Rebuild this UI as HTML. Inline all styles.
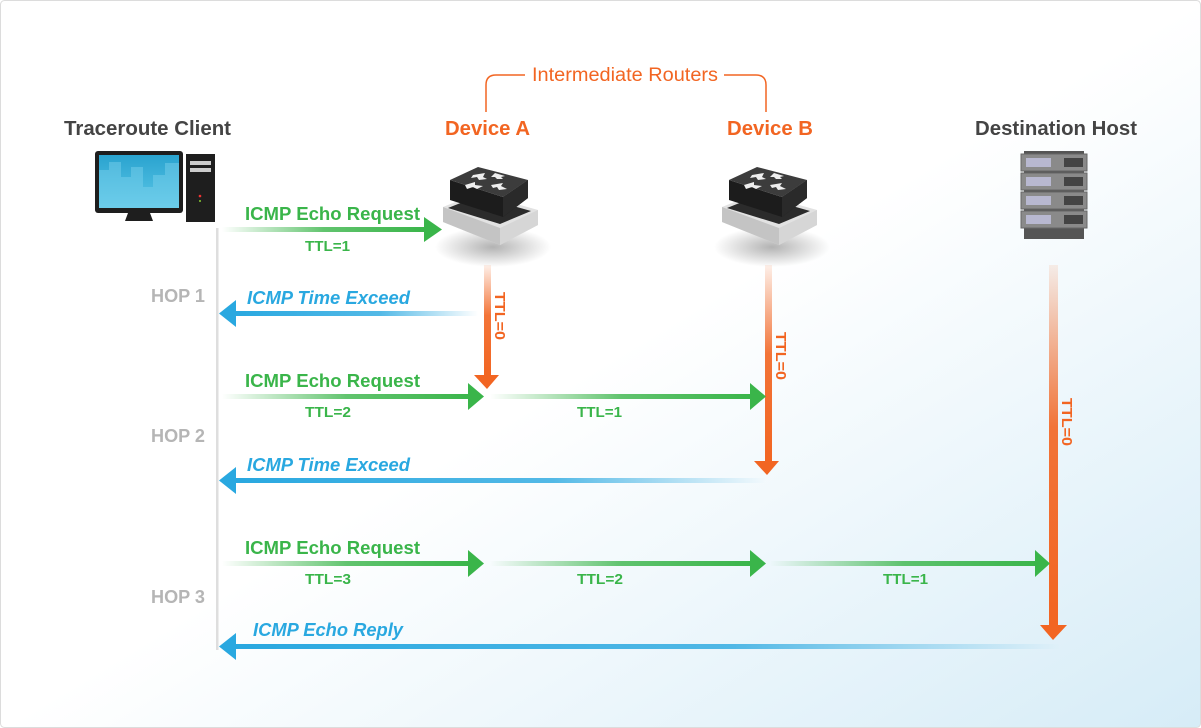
<!DOCTYPE html>
<html><head><meta charset="utf-8"><style>
html,body{margin:0;padding:0;background:#fff}
svg{display:block}
text{font-family:"Liberation Sans",Arial,sans-serif}
</style></head><body>
<svg width="1201" height="728" viewBox="0 0 1201 728" xmlns="http://www.w3.org/2000/svg">
<defs>
<linearGradient id="bg" x1="0" y1="0" x2="1" y2="1">
<stop offset="0.5" stop-color="#ffffff"/><stop offset="1" stop-color="#d6ecf7"/>
</linearGradient>
<linearGradient id="gr" x1="0" y1="0" x2="1" y2="0">
<stop offset="0" stop-color="#3ab54a" stop-opacity="0"/><stop offset="0.5" stop-color="#3ab54a" stop-opacity="0.8"/><stop offset="1" stop-color="#3ab54a"/>
</linearGradient>
<linearGradient id="bl" x1="0" y1="0" x2="1" y2="0">
<stop offset="0" stop-color="#29a8e0"/><stop offset="0.6" stop-color="#29a8e0" stop-opacity="0.8"/><stop offset="1" stop-color="#29a8e0" stop-opacity="0"/>
</linearGradient>
<linearGradient id="or" x1="0" y1="0" x2="0" y2="1">
<stop offset="0" stop-color="#f26522" stop-opacity="0.1"/><stop offset="0.45" stop-color="#f26522" stop-opacity="0.9"/><stop offset="1" stop-color="#f26522"/>
</linearGradient>
<radialGradient id="sh"><stop offset="0" stop-color="#000" stop-opacity="0.3"/><stop offset="1" stop-color="#000" stop-opacity="0"/></radialGradient>
<linearGradient id="scr" x1="0" y1="0" x2="0" y2="1"><stop offset="0" stop-color="#2aa3cf"/><stop offset="1" stop-color="#5cc8e8"/></linearGradient>
<g id="router">
<ellipse cx="50" cy="82" rx="58" ry="20" fill="url(#sh)"/>
<polygon points="0,42 35,28 95,45 95,60 57,80 0,57" fill="#e2e2e2"/>
<polygon points="0,42 57,63 57,80 0,57" fill="#c4c4c4"/>
<polygon points="57,63 95,45 95,60 57,80" fill="#d6d6d6"/>
<polygon points="5,43 35,31 88,46 57,59" fill="#2b2b2b"/>
<polygon points="7,15 7,35 60,52 85,33 85,15 60,32" fill="#1c1c1c"/>
<polygon points="60,32 85,15 85,33 60,52" fill="#2a2a2a"/>
<polygon points="7,15 35,2 85,15 60,32" fill="#3c3c3c"/>
<g fill="#eee">
<polygon points="30,10 42,8 40,12 44,14 36,15 34,12 28,13"/>
<polygon points="52,8 62,11 58,12 60,14 54,14 52,12 48,12"/>
<polygon points="22,20 32,17 32,20 40,21 34,24 30,22 24,24"/>
<polygon points="48,20 60,18 58,21 64,24 56,25 54,22 50,23"/>
</g>
</g>
</defs>
<rect x="0.5" y="0.5" width="1200" height="727" rx="4" fill="url(#bg)" stroke="#dcdcdc"/>

<!-- titles -->
<g font-size="20" font-weight="bold" lengthAdjust="spacingAndGlyphs">
<text x="64" y="135" fill="#444" textLength="167" lengthAdjust="spacingAndGlyphs">Traceroute Client</text>
<text x="445" y="135" fill="#f26522" textLength="85" lengthAdjust="spacingAndGlyphs">Device A</text>
<text x="727" y="135" fill="#f26522" textLength="86" lengthAdjust="spacingAndGlyphs">Device B</text>
<text x="975" y="135" fill="#444" textLength="162" lengthAdjust="spacingAndGlyphs">Destination Host</text>
</g>
<path d="M486,112 V85 Q486,75 496,75 H525 M724,75 H756 Q766,75 766,85 V112" fill="none" stroke="#f26522" stroke-width="1.5"/>
<text x="532" y="81" font-size="19" fill="#f26522" textLength="186" lengthAdjust="spacingAndGlyphs">Intermediate Routers</text>

<!-- computer -->
<rect x="95" y="151" width="88" height="62" rx="3" fill="#1e1e1e"/>
<rect x="99" y="155" width="80" height="53" fill="url(#scr)"/>
<path d="M99,208 V170 h10 v-8 h12 v15 h10 v-10 h12 v20 h10 v-12 h12 v-12 h14 v45z" fill="#7fd3ee" opacity="0.45"/>
<polygon points="128,213 150,213 153,221 125,221" fill="#1e1e1e"/>
<rect x="186" y="154" width="29" height="68" fill="#1e1e1e"/>
<rect x="190" y="161" width="21" height="4" fill="#ccc"/><rect x="190" y="168" width="21" height="4" fill="#ccc"/>
<circle cx="200" cy="196" r="1.3" fill="#e33"/><circle cx="200" cy="201" r="1" fill="#8c3"/>

<use href="#router" x="443" y="165"/>
<use href="#router" x="722" y="165"/>

<!-- server -->
<rect x="1024" y="151" width="60" height="88" fill="#555"/>
<g fill="#8a8a8a" stroke="#666">
<rect x="1021" y="154" width="66" height="17"/><rect x="1021" y="173" width="66" height="17"/>
<rect x="1021" y="192" width="66" height="17"/><rect x="1021" y="211" width="66" height="17"/>
</g>
<g fill="#b8b8d0"><rect x="1026" y="158" width="25" height="9"/><rect x="1026" y="177" width="25" height="9"/><rect x="1026" y="196" width="25" height="9"/><rect x="1026" y="215" width="25" height="9"/></g>
<g fill="#444"><rect x="1064" y="158" width="19" height="9"/><rect x="1064" y="177" width="19" height="9"/><rect x="1064" y="196" width="19" height="9"/><rect x="1064" y="215" width="19" height="9"/></g>

<!-- timeline -->
<rect x="216" y="228" width="2.5" height="422" fill="#dedede"/>
<g font-size="18" font-weight="bold" fill="#b5b5b5">
<text x="151" y="302" textLength="54" lengthAdjust="spacingAndGlyphs">HOP 1</text>
<text x="151" y="442" textLength="54" lengthAdjust="spacingAndGlyphs">HOP 2</text>
<text x="151" y="603" textLength="54" lengthAdjust="spacingAndGlyphs">HOP 3</text>
</g>

<!-- orange verticals -->
<rect x="484" y="265" width="7" height="112" fill="url(#or)"/>
<polygon points="474,375 499,375 487,389" fill="#f26522"/>
<rect x="765" y="265" width="7" height="198" fill="url(#or)"/>
<polygon points="754,461 779,461 767,475" fill="#f26522"/>
<rect x="1049" y="265" width="9" height="361" fill="url(#or)"/>
<polygon points="1040,625 1067,625 1053,640" fill="#f26522"/>
<g font-size="15" font-weight="bold" fill="#f26522">
<text transform="translate(495,292) rotate(90)" textLength="48" lengthAdjust="spacingAndGlyphs">TTL=0</text>
<text transform="translate(776,332) rotate(90)" textLength="48" lengthAdjust="spacingAndGlyphs">TTL=0</text>
<text transform="translate(1062,398) rotate(90)" textLength="48" lengthAdjust="spacingAndGlyphs">TTL=0</text>
</g>

<!-- green arrows -->
<g fill="url(#gr)">
<rect x="222" y="227" width="204" height="5"/>
<rect x="222" y="394" width="250" height="5"/>
<rect x="490" y="394" width="262" height="5"/>
<rect x="222" y="561" width="250" height="5"/>
<rect x="490" y="561" width="262" height="5"/>
<rect x="770" y="561" width="268" height="5"/>
</g>
<g fill="#3ab54a">
<polygon points="424,217 442,229.5 424,242"/>
<polygon points="468,383 484,396.5 468,410"/>
<polygon points="750,383 766,396.5 750,410"/>
<polygon points="468,550 484,563.5 468,577"/>
<polygon points="750,550 766,563.5 750,577"/>
<polygon points="1035,550 1050,563.5 1035,577"/>
</g>
<g font-size="18" font-weight="bold" fill="#3ab54a">
<text x="245" y="220" textLength="175" lengthAdjust="spacingAndGlyphs">ICMP Echo Request</text>
<text x="245" y="387" textLength="175" lengthAdjust="spacingAndGlyphs">ICMP Echo Request</text>
<text x="245" y="554" textLength="175" lengthAdjust="spacingAndGlyphs">ICMP Echo Request</text>
</g>
<g font-size="15" font-weight="bold" fill="#3ab54a">
<text x="305" y="251" textLength="45" lengthAdjust="spacingAndGlyphs">TTL=1</text>
<text x="305" y="417" textLength="46" lengthAdjust="spacingAndGlyphs">TTL=2</text><text x="577" y="417" textLength="45" lengthAdjust="spacingAndGlyphs">TTL=1</text>
<text x="305" y="584" textLength="46" lengthAdjust="spacingAndGlyphs">TTL=3</text><text x="577" y="584" textLength="46" lengthAdjust="spacingAndGlyphs">TTL=2</text><text x="883" y="584" textLength="45" lengthAdjust="spacingAndGlyphs">TTL=1</text>
</g>

<!-- blue arrows -->
<g fill="url(#bl)">
<rect x="234" y="311" width="244" height="5"/>
<rect x="234" y="478" width="532" height="5"/>
<rect x="234" y="644" width="826" height="5"/>
</g>
<g fill="#29a8e0">
<polygon points="236,300 219,313.5 236,327"/>
<polygon points="236,467 219,480.5 236,494"/>
<polygon points="236,633 219,646.5 236,660"/>
</g>
<g font-size="18" font-weight="bold" font-style="italic" fill="#29a8e0">
<text x="247" y="304" textLength="163" lengthAdjust="spacingAndGlyphs">ICMP Time Exceed</text>
<text x="247" y="471" textLength="163" lengthAdjust="spacingAndGlyphs">ICMP Time Exceed</text>
<text x="253" y="636" textLength="150" lengthAdjust="spacingAndGlyphs">ICMP Echo Reply</text>
</g>
</svg>
</body></html>
